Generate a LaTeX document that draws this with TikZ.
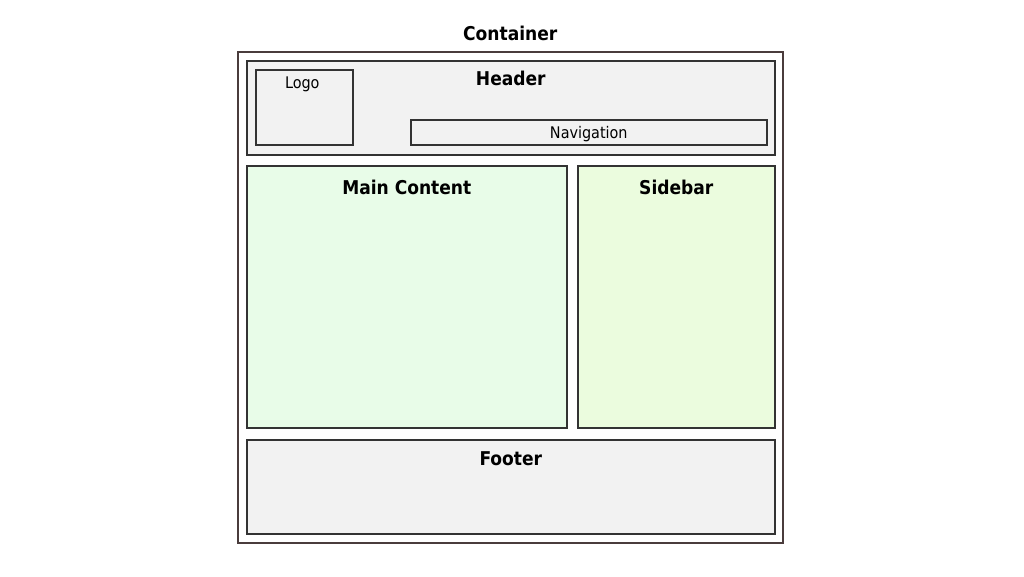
\documentclass[tikz,border=0pt]{standalone}
\usepackage{fontspec}
\setmainfont{DejaVu Sans Condensed}
\usetikzlibrary{positioning}
\definecolor{framegray}{HTML}{4A3C3C}
\definecolor{boxgray}{HTML}{F2F2F2}
\definecolor{maingreen}{HTML}{E8FCE8}
\definecolor{sidegreen}{HTML}{EBFCDE}
\tikzset{
    block/.style={draw=black!80, line width=1.6pt, anchor=north west, inner sep=0pt},
    title/.style={font=\fontsize{19}{22}\selectfont\bfseries},
    plain/.style={font=\fontsize{16}{19}\selectfont}
}
\begin{document}
\begin{tikzpicture}[x=1pt, y=-1pt]
    \useasboundingbox[fill=white] (0,0) rectangle (1024,576);

    % the outer container
    \node[block, draw=framegray, minimum width=545pt, minimum height=491pt] (container) at (237,51) {};
    \node[title] (containerlabel) at ([yshift=18pt]container.north) {Container};

    % the header with logo and navigation
    \node[block, fill=boxgray, minimum width=528pt, minimum height=94pt] (header) at (246,60) {};
    \node[title] (headerlabel) at ([yshift=-18.5pt]header.north) {Header};
    \node[block, fill=boxgray, minimum width=97pt, minimum height=75pt] (logo) at (255,69) {};
    \node[plain] (logolabel) at ([xshift=-2pt, yshift=-15.5pt]logo.north) {Logo};
    \node[block, fill=boxgray, minimum width=356pt, minimum height=25pt] (nav) at (410,119) {};
    \node[plain] (navlabel) at ([yshift=-1.5pt]nav.center) {Navigation};

    % main content and sidebar
    \node[block, fill=maingreen, minimum width=320pt, minimum height=262pt] (main) at (246,165) {};
    \node[title] (mainlabel) at ([yshift=-22.5pt]main.north) {Main Content};
    \node[block, fill=sidegreen, minimum width=197pt, minimum height=262pt] (sidebar) at (577,165) {};
    \node[title] (sidebarlabel) at ([yshift=-22.5pt]sidebar.north) {Sidebar};

    % the footer
    \node[block, fill=boxgray, minimum width=528pt, minimum height=94pt] (footer) at (246,439) {};
    \node[title] (footerlabel) at ([yshift=-20pt]footer.north) {Footer};
\end{tikzpicture}
\end{document}
